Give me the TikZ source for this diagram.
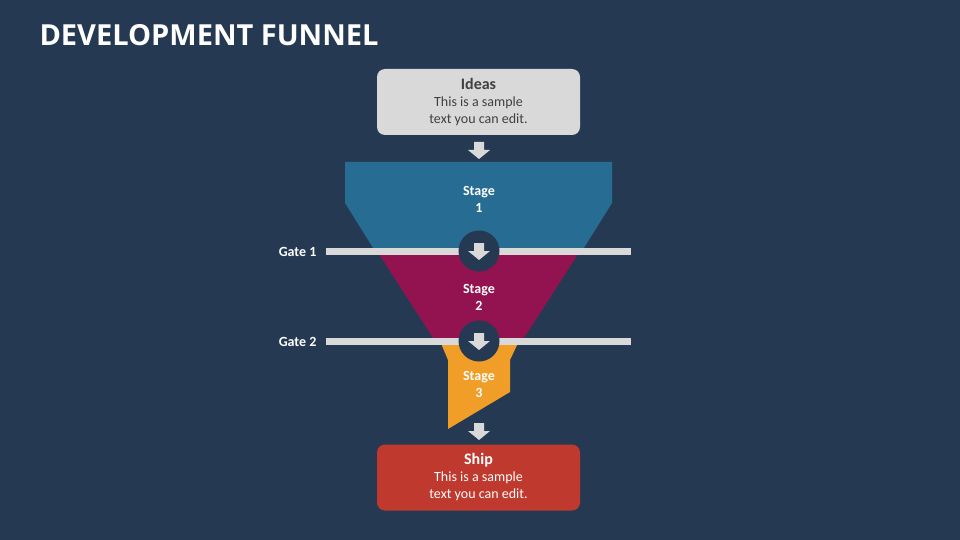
\documentclass[tikz,border=0pt]{standalone}
\usepackage{fontspec}
\setmainfont{Carlito}
\newfontfamily\titlefont{Open Sans}
\definecolor{bg}{HTML}{253A52}
\definecolor{sblue}{HTML}{276C93}
\definecolor{smag}{HTML}{92134F}
\definecolor{sora}{HTML}{F09E27}
\definecolor{sred}{HTML}{C0392E}
\definecolor{lgray}{HTML}{D9D9D9}
\definecolor{dtext}{HTML}{404040}
\begin{document}
\begin{tikzpicture}[x=1pt,y=-1pt,
  stxt/.style={text=white,font=\bfseries\fontsize{14}{17}\selectfont,align=center},
  box/.style={rounded corners=8pt,minimum width=203pt,minimum height=66pt,align=center,font=\fontsize{14}{17}\selectfont},
  gateline/.style={draw=lgray,line width=7pt},
  arr/.pic={\fill[lgray] (-5,-8)--(5,-8)--(5,0)--(11,0)--(0,9)--(-11,0)--(-5,0)--cycle;}]
\fill[bg] (0,0) rectangle (960,540);
\node[anchor=west,text=white,font=\titlefont\bfseries\fontsize{29}{34}\selectfont] (title) at (36,35) {DEVELOPMENT FUNNEL};
% funnel
\fill[sblue] (345,162)--(612,162)--(612,203)--(582,251)--(375,251)--(345,203)--cycle;
\fill[smag] (377,251)--(580,251)--(522,341)--(435,341)--cycle;
\fill[sora] (440,341)--(519,341)--(510,360)--(510,392)--(448,429)--(448,360)--cycle;
% gates
\coordinate (g1l) at (326,251); \coordinate (g1r) at (631,251);
\coordinate (g2l) at (326,341); \coordinate (g2r) at (631,341);
\draw[gateline] (g1l)--(g1r);
\draw[gateline] (g2l)--(g2r);
\node[circle,fill=bg,minimum size=41pt,inner sep=0] (c1) at (479,251) {};
\node[circle,fill=bg,minimum size=41pt,inner sep=0] (c2) at (479,341) {};
\pic at (479,251) {arr};
\pic at (479,341) {arr};
\node[anchor=east,text=white,font=\bfseries\fontsize{14}{17}\selectfont] (gt1) at (320,252) {Gate 1};
\node[anchor=east,text=white,font=\bfseries\fontsize{14}{17}\selectfont] (gt2) at (320,342) {Gate 2};
\node[stxt] (s1) at (479,199) {Stage\\1};
\node[stxt] (s2) at (479,297) {Stage\\2};
\node[stxt] (s3) at (479,384) {Stage\\3};
% boxes
\node[box,fill=lgray,text=dtext] (ideas) at (478.5,102) {\textbf{\fontsize{16}{19}\selectfont Ideas}\\This is a sample\\text you can edit.};
\node[box,fill=sred,text=white] (ship) at (478.5,477.5) {\textbf{\fontsize{16}{19}\selectfont Ship}\\This is a sample\\text you can edit.};
\pic at (479,150) {arr};
\pic at (479,431) {arr};
\end{tikzpicture}
\end{document}
